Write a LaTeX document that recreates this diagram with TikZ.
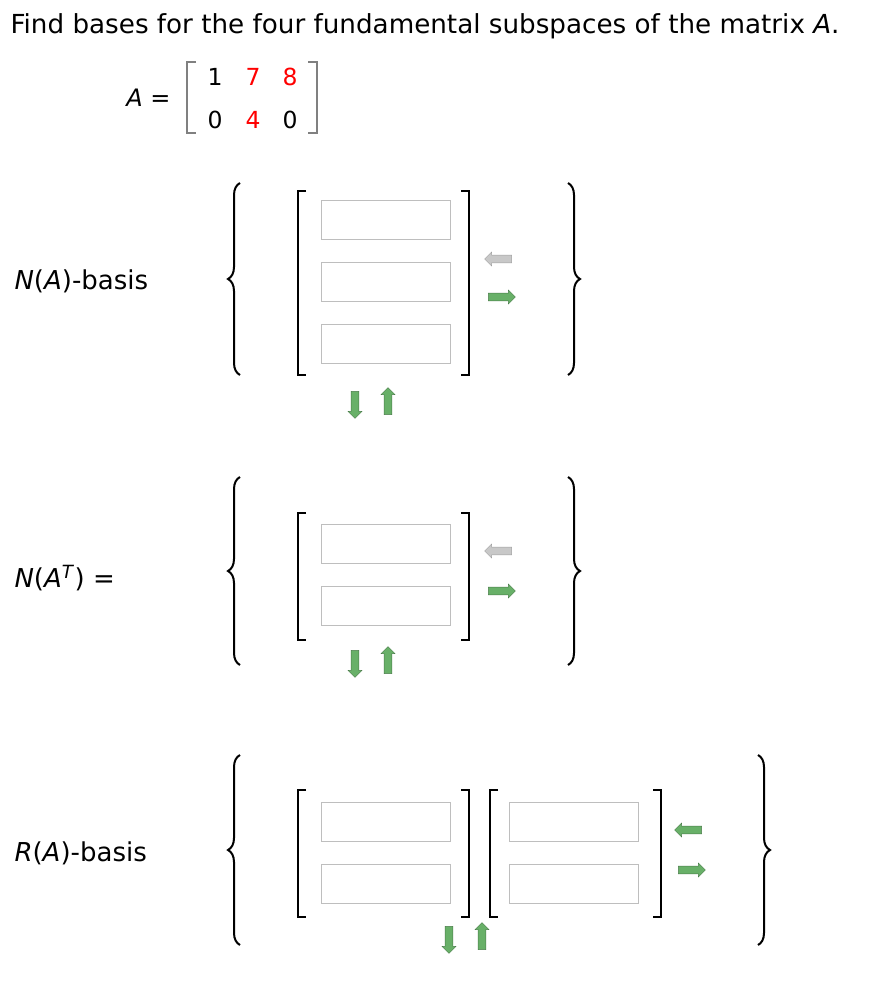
\documentclass[tikz,border=0pt]{standalone}
\usepackage{fontspec}
\setmainfont{DejaVu Sans}
\usetikzlibrary{shapes.arrows,decorations.pathreplacing}
\definecolor{ansgreen}{RGB}{104,176,104}
\definecolor{ansgray}{RGB}{200,200,200}
\definecolor{boxgray}{RGB}{190,190,190}
\tikzset{
  entry/.style={draw=boxgray, minimum width=129pt, minimum height=39pt, inner sep=0pt},
  bigbrace/.style={decorate, decoration={brace, amplitude=12pt}, line width=2pt},
  arr/.style={shape=single arrow, minimum height=27pt, minimum width=14pt, single arrow head extend=3pt, inner sep=3.5pt, draw=ansgreen!70!black, fill=ansgreen},
  garr/.style={arr, draw=ansgray!80!black, fill=ansgray},
  lbl/.style={anchor=west, font=\fontsize{26}{30}\selectfont}
}
\begin{document}
\begin{tikzpicture}[x=1pt,y=-1pt]
\useasboundingbox (0,0) rectangle (892,990);
% Title and the matrix
\node[anchor=west, font=\fontsize{26.2}{30}\selectfont] (title) at (7,26) {Find bases for the four fundamental subspaces of the matrix \textit{A}.};
\node[anchor=east, font=\fontsize{24}{27}\selectfont] (aeq) at (174,98) {\textit{A} =};
\draw[gray, line width=2pt] (196,62) -- (187,62) -- (187,133) -- (196,133);
\draw[gray, line width=2pt] (308,62) -- (317,62) -- (317,133) -- (308,133);
\begin{scope}[font=\fontsize{23.5}{27}\selectfont]
\node (a11) at (215,77) {1};
\node[red] (a12) at (253,77) {7};
\node[red] (a13) at (290,77) {8};
\node (a21) at (215,120) {0};
\node[red] (a22) at (253,120) {4};
\node (a23) at (290,120) {0};
\end{scope}
% N(A)-basis
\node[lbl] (na) at (11,281) {\textit{N}(\textit{A})-basis};
\draw[bigbrace] (240,375) -- (240,183);
\draw[bigbrace] (568,183) -- (568,375);
\draw[line width=2pt] (306,191) -- (298,191) -- (298,375) -- (306,375);
\draw[line width=2pt] (461,191) -- (469,191) -- (469,375) -- (461,375);
\foreach \y [count=\i] in {220,282,344}
  \node[entry] (na\i) at (385.5,\y) {};
\node[garr, shape border rotate=180] (naleft) at (500,259) {};
\node[arr] (naright) at (500,297) {};
\node[arr, shape border rotate=270] (nadown) at (355,403) {};
\node[arr, shape border rotate=90] (naup) at (388,403) {};
% N(A^T)
\node[lbl] (nat) at (11,578) {\textit{N}(\textit{A}\textsuperscript{\textit{T}}) =};
\draw[bigbrace] (240,665) -- (240,477);
\draw[bigbrace] (568,477) -- (568,665);
\draw[line width=2pt] (306,513) -- (298,513) -- (298,640) -- (306,640);
\draw[line width=2pt] (461,513) -- (469,513) -- (469,640) -- (461,640);
\foreach \y [count=\i] in {544,606}
  \node[entry] (nat\i) at (385.5,\y) {};
\node[garr, shape border rotate=180] (natleft) at (500,551) {};
\node[arr] (natright) at (500,591) {};
\node[arr, shape border rotate=270] (natdown) at (355,662) {};
\node[arr, shape border rotate=90] (natup) at (388,662) {};
% R(A)-basis
\node[lbl] (ra) at (11,853) {\textit{R}(\textit{A})-basis};
\draw[bigbrace] (240,945) -- (240,755);
\draw[bigbrace] (758,755) -- (758,945);
\foreach \xl/\xr in {298/469,490/661}
{
  \draw[line width=2pt] (\xl+8,790) -- (\xl,790) -- (\xl,917) -- (\xl+8,917);
  \draw[line width=2pt] (\xr-8,790) -- (\xr,790) -- (\xr,917) -- (\xr-8,917);
}
\foreach \x [count=\j] in {385.5,573.5}
  \foreach \y [count=\i] in {822,884}
    \node[entry] (ra\j\i) at (\x,\y) {};
\node[arr, shape border rotate=180] (raleft) at (690,830) {};
\node[arr] (raright) at (690,870) {};
\node[arr, shape border rotate=270] (radown) at (449,938) {};
\node[arr, shape border rotate=90] (raup) at (482,938) {};
\end{tikzpicture}
\end{document}
